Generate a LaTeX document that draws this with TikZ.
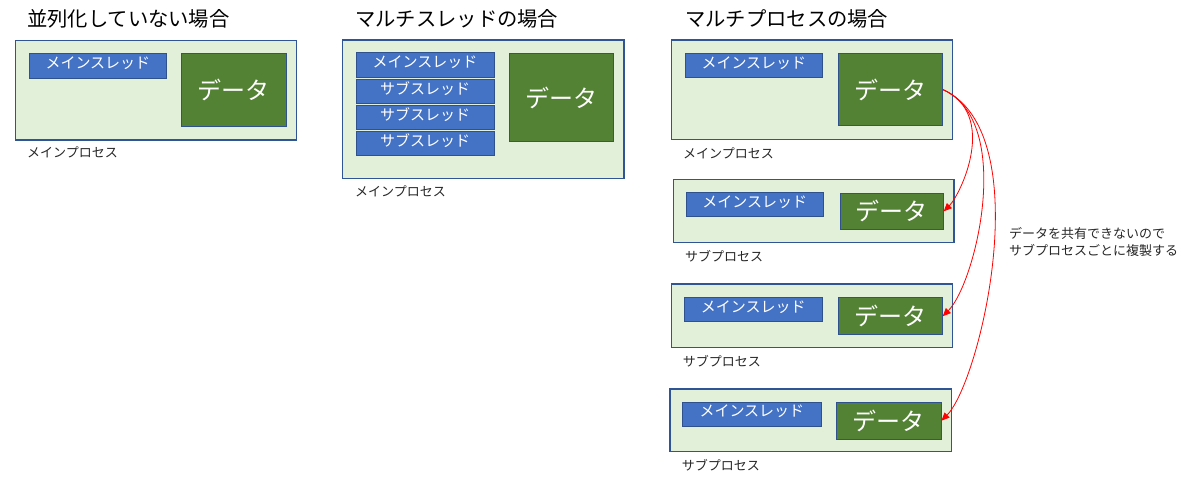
\documentclass[tikz,border=0pt]{standalone}
\usepackage{fontspec}
\setmainfont{Noto Sans CJK JP}
\newfontfamily\jp{Noto Sans CJK JP}
\usetikzlibrary{arrows.meta}
\definecolor{procfill}{HTML}{E2F0D9}
\definecolor{procline}{HTML}{2F5597}
\definecolor{thfill}{HTML}{4472C4}
\definecolor{thline}{HTML}{2F528F}
\definecolor{datafill}{HTML}{548235}
\definecolor{arrred}{HTML}{FF0000}
\tikzset{
  procbox/.style={draw=procline, fill=procfill, line width=1.1pt, inner sep=0pt},
  thbox/.style={draw=thline, fill=thfill, line width=0.9pt, inner sep=0pt, text=white,
    text height=0.8em, text depth=0.24em,
    font=\jp\fontsize{15pt}{15pt}\selectfont},
  databox/.style={draw=thline, fill=datafill, line width=0.9pt, inner sep=0pt, text=white,
    font=\jp\fontsize{24pt}{24pt}\selectfont},
  titletext/.style={anchor=west, inner sep=0pt, font=\jp\fontsize{20.3pt}{22pt}\selectfont},
  proclabel/.style={anchor=west, inner sep=0pt, text=black!85, font=\jp\fontsize{13pt}{13pt}\selectfont},
  copyarrow/.style={draw=arrred, line width=0.8pt, -{Triangle[length=8pt,width=7pt]}},
}
\begin{document}
\begin{tikzpicture}[x=1pt,y=1pt]
\useasboundingbox (0,0) rectangle (1200,-491);
% ---------- Panel 1 ----------
\node[titletext] (title1) at (27,-19) {並列化していない場合};
\node[procbox, minimum width=281.4pt, minimum height=99.3pt] (p1) at (156,-90.35) {};
\node[thbox, minimum width=137.7pt, minimum height=25pt] (t1) at (97.85,-65.8) {メインスレッド};
\node[databox, minimum width=104.3pt, minimum height=72.7pt] (d1) at (233.85,-89.65) {データ};
\node[proclabel] (l1) at (27,-152) {メインプロセス};
% ---------- Panel 2 ----------
\node[titletext] (title2) at (355,-19) {マルチスレッドの場合};
\node[procbox, minimum width=281.3pt, minimum height=138.3pt] (p2) at (483.35,-109.15) {};
\node[thbox, minimum width=138pt, minimum height=24.4pt] (t2a) at (425,-65) {メインスレッド};
\node[thbox, minimum width=138pt, minimum height=24.4pt] (t2b) at (425,-91.2) {サブスレッド};
\node[thbox, minimum width=138pt, minimum height=24.4pt] (t2c) at (425,-117.4) {サブスレッド};
\node[thbox, minimum width=138pt, minimum height=24.4pt] (t2d) at (425,-143.6) {サブスレッド};
\node[databox, minimum width=104pt, minimum height=88.4pt] (d2) at (561,-97.5) {データ};
\node[proclabel] (l2) at (355,-191.7) {メインプロセス};
% ---------- Panel 3 ----------
\node[titletext] (title3) at (685,-19) {マルチプロセスの場合};
\node[procbox, minimum width=281pt, minimum height=99.3pt] (p3m) at (812.2,-89.65) {};
\node[thbox, minimum width=137.7pt, minimum height=24pt] (t3m) at (753.85,-65.3) {メインスレッド};
\node[databox, minimum width=104pt, minimum height=72.4pt] (d3m) at (890.3,-89.5) {データ};
\node[proclabel] (l3m) at (683,-153.3) {メインプロセス};
% sub process 1
\node[procbox, minimum width=280.7pt, minimum height=63pt] (s1) at (813.65,-210.8) {};
\node[thbox, minimum width=137.3pt, minimum height=24pt] (s1t) at (754.65,-204.7) {メインスレッド};
\node[databox, minimum width=103.3pt, minimum height=36pt] (s1d) at (891.65,-211.3) {データ};
\node[proclabel] (s1l) at (685,-256) {サブプロセス};
% sub process 2
\node[procbox, minimum width=281pt, minimum height=63.3pt] (s2) at (812.2,-315.65) {};
\node[thbox, minimum width=138.3pt, minimum height=24pt] (s2t) at (753.15,-309.7) {メインスレッド};
\node[databox, minimum width=104pt, minimum height=37pt] (s2d) at (890.3,-316.2) {データ};
\node[proclabel] (s2l) at (682.7,-361.7) {サブプロセス};
% sub process 3
\node[procbox, minimum width=281.7pt, minimum height=62.7pt] (s3) at (810.85,-420.35) {};
\node[thbox, minimum width=138.3pt, minimum height=24pt] (s3t) at (751.85,-414) {メインスレッド};
\node[databox, minimum width=104.3pt, minimum height=36.7pt] (s3d) at (888.85,-420.65) {データ};
\node[proclabel] (s3l) at (681.7,-465.7) {サブプロセス};
% annotation
\node[anchor=west, inner sep=0pt, align=left, text=black!85,
  font=\jp\fontsize{13pt}{17.4pt}\selectfont] (note) at (1009,-242)
  {データを共有できないので\\サブプロセスごとに複製する};
% copy arrows
\draw[copyarrow] (d3m.east) .. controls +(56,-25) and +(17,17) .. (s1d.east);
\draw[copyarrow] (d3m.east) .. controls +(72,-32) and +(33,33) .. (s2d.east);
\draw[copyarrow] (d3m.east) .. controls +(96,-43) and +(39,39) .. (s3d.east);
\end{tikzpicture}
\end{document}
